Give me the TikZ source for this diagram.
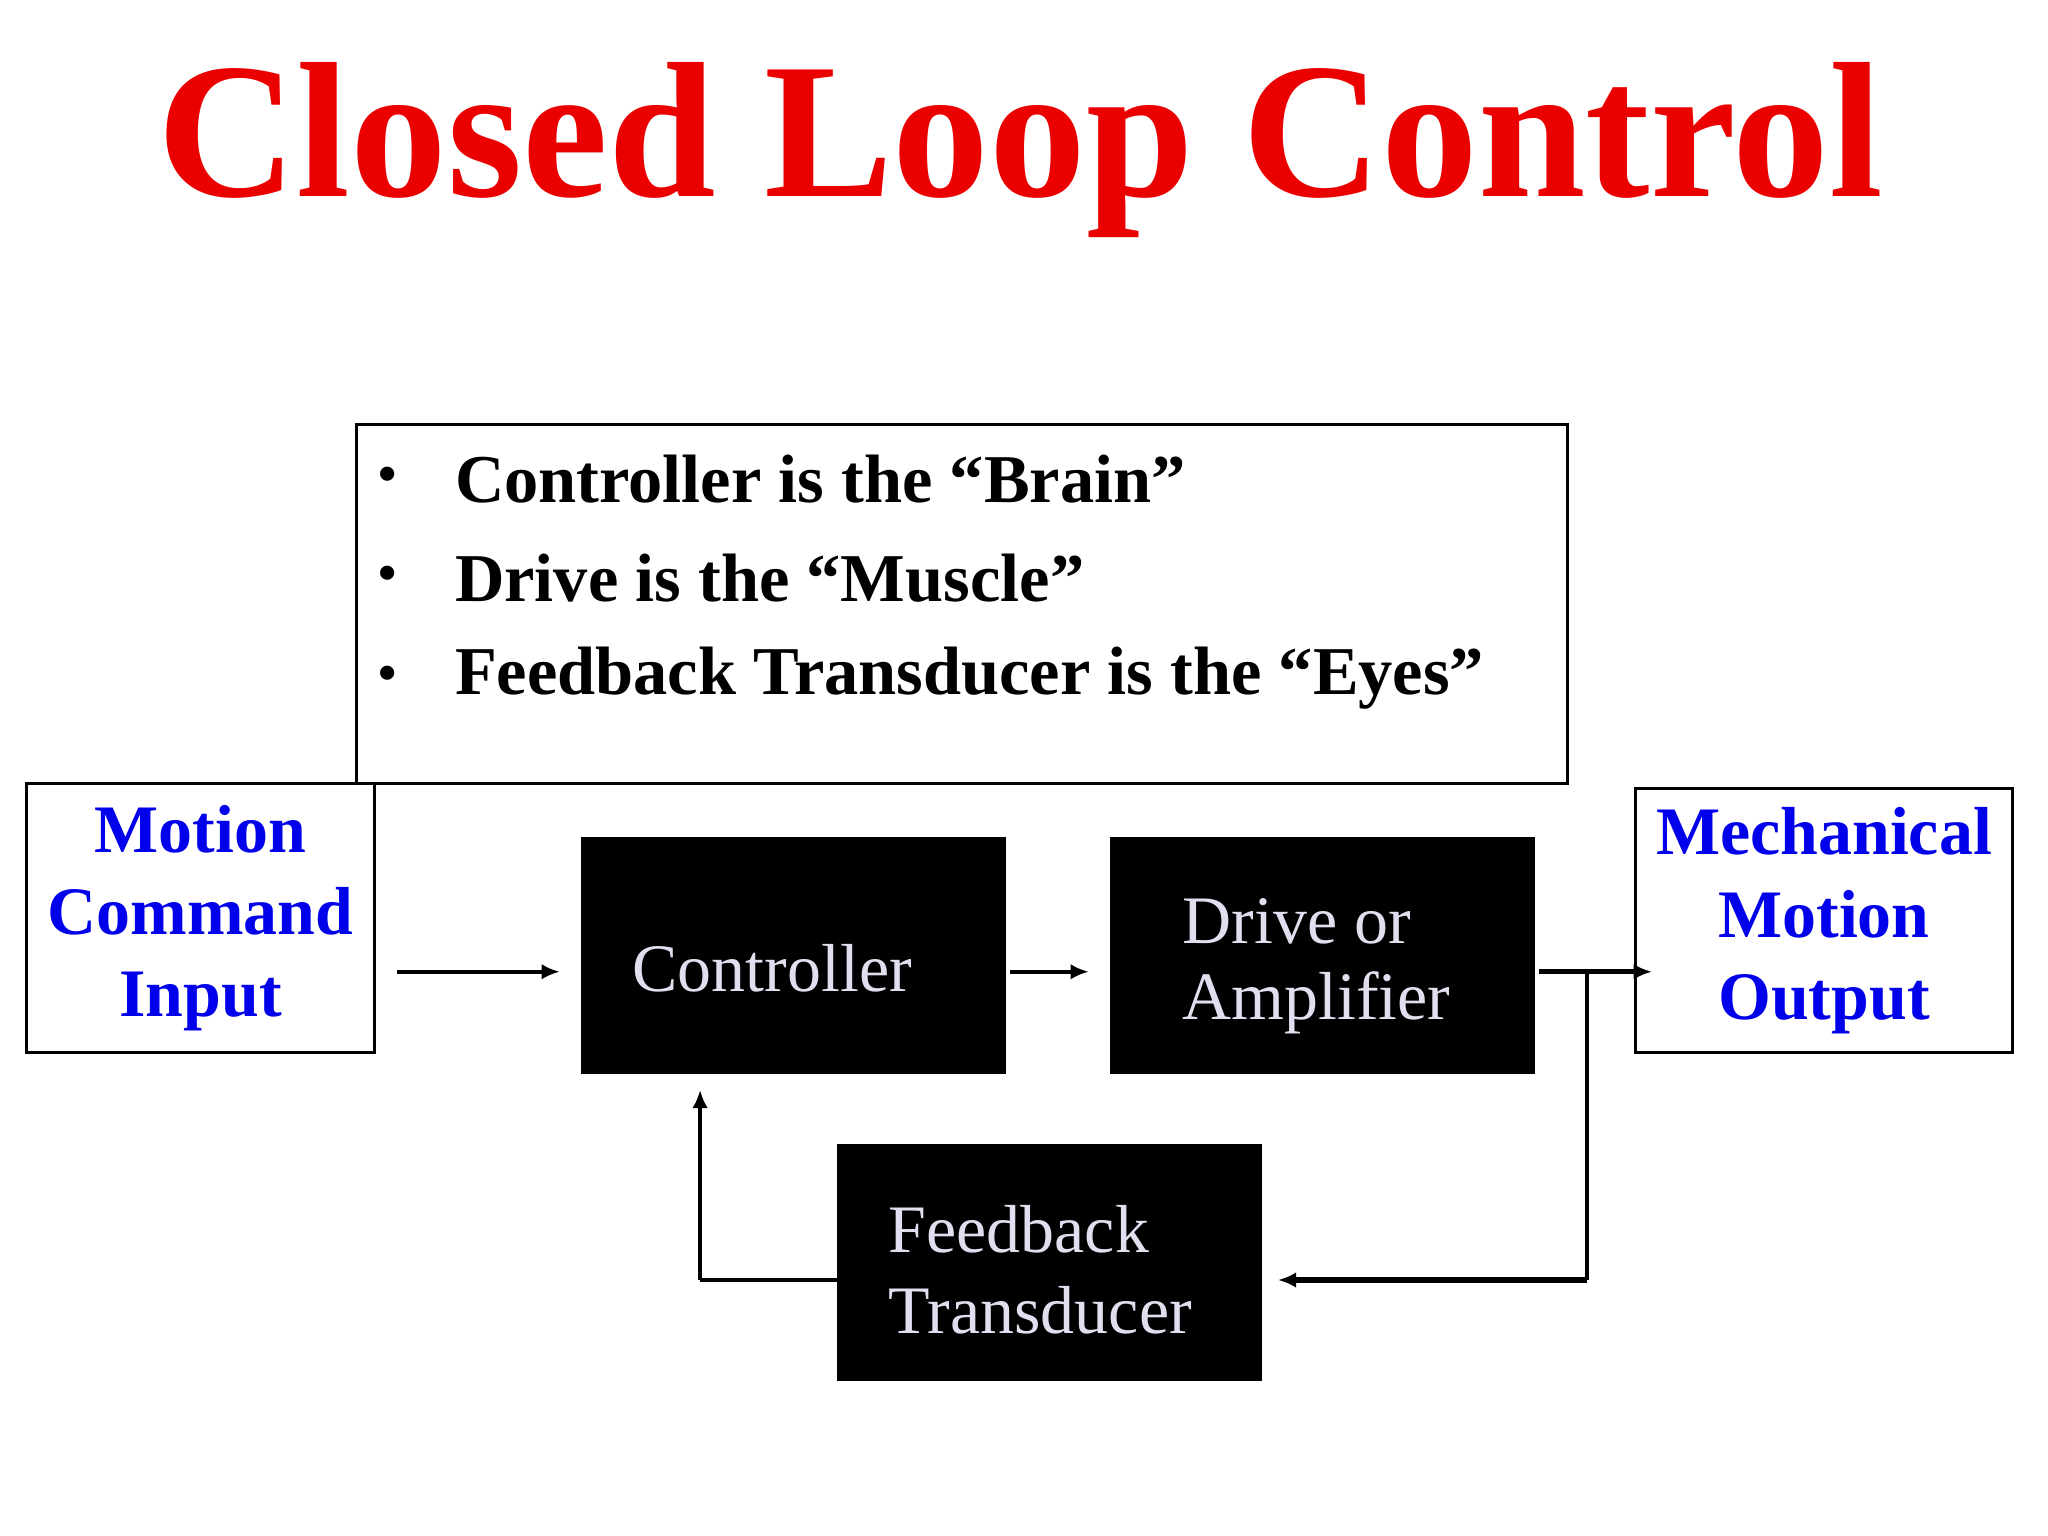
\documentclass[tikz,border=0pt]{standalone}
\usepackage{fontspec}
\setmainfont{Liberation Serif}
\usetikzlibrary{arrows.meta}
\definecolor{tred}{RGB}{235,0,0}
\definecolor{tblue}{RGB}{0,0,235}
\definecolor{ltext}{RGB}{225,222,240}
\tikzset{
 wbox/.style={draw=black,line width=1.2pt,fill=white,inner sep=0pt,align=center},
 bbox/.style={fill=black,draw=black,inner sep=0pt,text=ltext,font=\fontsize{26}{29}\selectfont,align=left},
 bl/.style={font=\bfseries\fontsize{26}{31.5}\selectfont,text=tblue,align=center},
 arr/.style={line width=1.5pt,-{Latex[length=7pt,width=6pt]}},
 ln/.style={line width=1.2pt}
}
\begin{document}
\begin{tikzpicture}[x=0.5pt,y=-0.5pt]
\useasboundingbox (0,0) rectangle (1568,1176);
\node (title) at (781,115) {\fontsize{74}{74}\selectfont\bfseries\color{tred}Closed Loop Control};
\node[wbox,minimum width=463.5pt,minimum height=137.5pt] (bul) at (736.5,462.5) {};
\foreach \y/\t [count=\i] in {367/{Controller is the “Brain”},443/{Drive is the “Muscle”},519/{Feedback Transducer is the “Eyes”}}{
 \node[anchor=center,font=\bfseries\fontsize{20}{20}\selectfont] (b\i) at (297,\y) {•};
 \node[anchor=west,inner sep=0pt,font=\bfseries\fontsize{26.2}{28}\selectfont] (t\i) at (348,\y) {\t};
}
\node[wbox,minimum width=133.5pt,minimum height=103pt,bl] (mot) at (153.5,703) {Motion\\Command\\Input};
\node[wbox,minimum width=144.5pt,minimum height=101pt,bl] (mech) at (1396.5,705) {Mechanical\\Motion\\Output};
\node[bbox,minimum width=162.5pt,minimum height=90.5pt] (ctl) at (607.5,731.5) {};
\node[bbox,anchor=west] (ctlt) at (484,741) {Controller};
\node[bbox,minimum width=162.5pt,minimum height=90.5pt] (drv) at (1012.5,731.5) {};
\node[bbox,anchor=west] (drvt) at (905,740) {Drive or\\Amplifier};
\node[bbox,minimum width=162.5pt,minimum height=90.5pt] (fb) at (803.5,966.5) {};
\node[bbox,anchor=west] (fbt) at (680,972) {Feedback\\[2pt]Transducer};
\coordinate (j) at (1215,744);
\coordinate (k) at (1215,980);
\coordinate (m) at (536,980);
\draw[arr] ([xshift=8pt]mot.east |- 0,744) -- ([xshift=-8pt]ctl.west |- 0,744);
\draw[arr] ([xshift=1.5pt]ctl.east |- 0,744) -- ([xshift=-8pt]drv.west |- 0,744);
\draw[arr,line width=2pt] ([xshift=1.5pt]drv.east |- 0,744) -- ([xshift=7pt]mech.west |- 0,744);
\draw[ln] (j) -- (k);
\draw[arr,line width=2pt] (k) -- ([xshift=6pt]fb.east |- k);
\draw[ln] (fb.west |- m) -- (m);
\draw[arr] (m) -- ([yshift=-6pt]m |- ctl.south);
\end{tikzpicture}
\end{document}
